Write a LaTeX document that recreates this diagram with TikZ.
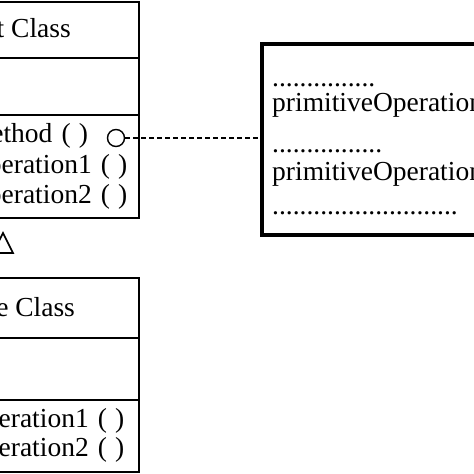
\documentclass[tikz,border=0pt]{standalone}
\usepackage{fontspec}
\setmainfont{Liberation Serif}
\usepackage{tikz}
\usetikzlibrary{positioning,calc}

\newcommand{\noargs}{\hspace{0.33em}(\hspace{0.3em})}

\begin{document}
\begin{tikzpicture}[
  x=1pt,y=-1pt,
  font=\fontsize{27.5}{30}\selectfont,
  part/.style={draw,line width=2.8pt,minimum width=286pt,inner sep=0pt,outer sep=0pt},
  op/.style={anchor=base west,inner sep=0pt},
  note/.style={draw,line width=4.6pt,inner sep=0pt,outer sep=0pt,minimum width=280pt,minimum height=191pt},
  hook/.style={draw,circle,line width=1.4pt,minimum size=17pt,inner sep=0pt}
]
\useasboundingbox[clip] (0,0) rectangle (474,474);
% abstract class
\node[part,minimum height=56pt] (absname) at (-4,30) {};
\node[op] at (-89,37) {Abstract Class};
\node[part,minimum height=57pt,below=0pt of absname] (absattr) {};
\node[part,minimum height=103pt,below=0pt of absattr] (absops) {};
\node[op] (tmpl) at (-128,142) {templateMethod\noargs};
\node[op] at (-133,173) {primitiveOperation1\noargs};
\node[op] at (-133,203) {primitiveOperation2\noargs};
\node[hook] (hk) at (116,138) {};
% concrete class
\node[part,minimum height=60pt] (conname) at (-4,308) {};
\node[op] at (-91,316) {Concrete Class};
\node[part,minimum height=62pt,below=0pt of conname] (conattr) {};
\node[part,minimum height=72pt,below=0pt of conattr] (conops) {};
\node[op] at (-136,427) {primitiveOperation1\noargs};
\node[op] at (-136,456) {primitiveOperation2\noargs};
% generalization
\coordinate (gen) at (3,233);
\draw[line width=1.7pt,line join=miter] ($(gen)+(-10,20)$) -- (gen) -- ($(gen)+(10,20)$) -- cycle;
% note
\node[note] (nt) at (402,139.5) {};
\node[op] at (272,86) {...............};
\node[op] at (272,111) {primitiveOperation1\noargs};
\node[op] at (272,152) {................};
\node[op] at (272,180) {primitiveOperation2\noargs};
\node[op] at (272,214) {...........................};
\draw[line width=1.2pt,dash pattern=on 5pt off 3pt] (hk.east) -- (nt.west |- hk);
\end{tikzpicture}
\end{document}
